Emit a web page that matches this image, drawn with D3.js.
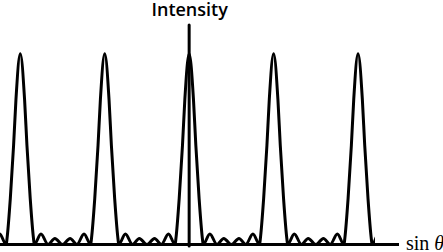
<!DOCTYPE html>
<html>
<head>
<meta charset="utf-8">
<script src="https://cdn.jsdelivr.net/npm/d3@7"></script>
<style>
  body { margin: 0; background: #fff; }
  svg { display: block; }
</style>
</head>
<body>
<svg id="chart" width="443" height="252"></svg>
<script>
// principal maxima (sin theta in units of lambda/d)
var orders = [-3, -2, -1, 0, 1, 2, 3];
// one half period of the pattern (offset from a principal max, relative intensity)
var halfOffsets = [0, 0.051, 0.079, 0.118, 0.157, 0.166, 0.245, 0.33, 0.41, 0.5];
var halfLevels  = [1, 0.76, 0.52, 0.24, 0.03, 0, 0.055, 0, 0.032, 0];
var xLabel = "sin \u03b8";
var yLabel = "Intensity";

var svg = d3.select("#chart"),
    width = 443, height = 252;

var x = d3.scaleLinear().domain([-2.24, 2.485]).range([0, 399]);
var y = d3.scaleLinear().domain([0, 1.15]).range([244.5, 25]);

// build the points: profile mirrored round every order
var pts = [];
orders.forEach(function (m) {
    halfOffsets.forEach(function (o, i) {
        pts.push([m + o, halfLevels[i]]);
        if (o > 0) pts.push([m - o, halfLevels[i]]);
    });
});
pts.sort(function (a, b) { return a[0] - b[0]; });
pts = pts.filter(function (p, i) { return i == 0 || Math.abs(p[0] - pts[i - 1][0]) > 1e-9; });

svg.append("clipPath").attr("id", "clip")
    .append("rect").attr("x", 0).attr("y", 0).attr("width", 375).attr("height", height);

var line = d3.line()
    .x(function (d) { return x(d[0]); })
    .y(function (d) { return y(d[1]); })
    .curve(d3.curveMonotoneX);

svg.append("path")
    .datum(pts)
    .attr("clip-path", "url(#clip)")
    .attr("fill", "none")
    .attr("stroke", "#000")
    .attr("stroke-width", 3)
    .attr("stroke-linejoin", "round")
    .attr("d", line);

// horizontal axis
svg.append("line")
    .attr("x1", x.range()[0]).attr("x2", x.range()[1])
    .attr("y1", y(0)).attr("y2", y(0))
    .attr("stroke", "#000").attr("stroke-width", 3);

// vertical axis
svg.append("line")
    .attr("x1", x(0)).attr("x2", x(0))
    .attr("y1", y(0) + 1.5).attr("y2", y.range()[1])
    .attr("stroke", "#000").attr("stroke-width", 3)
    .attr("stroke-linecap", "round");

svg.append("text")
    .attr("x", x(0) + 0.5)
    .attr("y", 15.5)
    .attr("text-anchor", "middle")
    .attr("font-family", "'Open Sans', sans-serif")
    .attr("font-weight", 600)
    .attr("font-size", 18)
    .text(yLabel);

var xl = svg.append("text")
    .attr("x", 406)
    .attr("y", 249.5)
    .attr("font-family", "'Liberation Serif', 'Times New Roman', serif")
    .attr("font-size", 20);
xl.append("tspan").text("sin ");
xl.append("tspan").attr("font-style", "italic").text("\u03b8");
</script>
</body>
</html>
